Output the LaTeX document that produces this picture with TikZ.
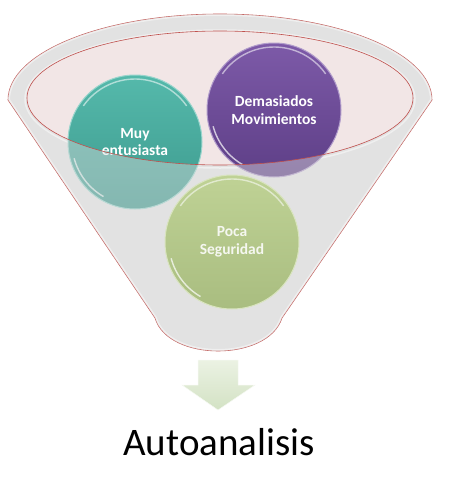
\documentclass[tikz,border=0pt]{standalone}
\usepackage{fontspec}
\setmainfont{Carlito}
\usetikzlibrary{positioning}
\definecolor{funnelred}{HTML}{C0504D}
\definecolor{funnelgray}{HTML}{E8E8E8}
\definecolor{innerpink}{HTML}{F2E6E6}
\definecolor{fadegray}{HTML}{DCDCDC}
\definecolor{tealtop}{HTML}{55B9AB}
\definecolor{tealbot}{HTML}{3D9A8E}
\definecolor{purptop}{HTML}{7D5AA8}
\definecolor{purpbot}{HTML}{5E3F87}
\definecolor{greentop}{HTML}{BFD295}
\definecolor{greenbot}{HTML}{A9BD80}
\definecolor{arrowtop}{HTML}{EBF2E3}
\definecolor{arrowbot}{HTML}{D3E2C4}
\tikzset{
  ball/.style={circle, minimum size=134pt, inner sep=0pt, align=center, text=white,
    line width=1pt, font=\bfseries\fontsize{15.5}{17.5}\selectfont,
    path picture={
      \draw[white, opacity=0.55, line width=1.4pt] (path picture bounding box.center)
        ++(145:63pt) arc[start angle=145, end angle=35, radius=63pt];
      \draw[white, opacity=0.7, line width=1.4pt] (path picture bounding box.center)
        ++(195:63pt) arc[start angle=195, end angle=240, radius=63pt];
    }},
  rimline/.style={draw=funnelred, line width=0.6pt},
  glow/.style={draw=white, line width=4pt},
}

\begin{document}
\begin{tikzpicture}[x=1pt, y=-1pt]
  \useasboundingbox (0,0) rectangle (448,485);
  \def\cone{(8,100) arc[start angle=180, end angle=360, x radius=212, y radius=86]
    -- (282,318) .. controls (268,362) and (168,362) .. (155,318) -- cycle}
  \def\mouth{(220,98) ellipse [x radius=193, y radius=67]}
  \path[fill=funnelgray, glow] \cone;
  \draw[rimline] \cone;
  \fill[innerpink] \mouth;
  \draw[white, line width=1.5pt] (220,99) ellipse [x radius=195, y radius=69];
  \node[ball, top color=tealtop, bottom color=tealbot, draw=tealtop!60!white] (entusiasta) at (135,142) {Muy\\entusiasta};
  \node[ball, top color=purptop, bottom color=purpbot, draw=purptop!60!white] (movimientos) at (274,110) {Demasiados\\Movimientos};
  \fill[fadegray, opacity=0.45, even odd rule] \cone \mouth;
  \node[ball, top color=greentop, bottom color=greenbot, draw=greentop!60!white, text=white!88!greenbot] (seguridad) at (232,242) {Poca\\Seguridad};
  \draw[rimline] \mouth;
  \path[top color=arrowtop, bottom color=arrowbot, draw=white!80!arrowbot, line width=0.5pt]
    (198,360) -- (238,360) -- (238,385) -- (255,385) -- (218,410) -- (182,385) -- (198,385) -- cycle;
  \node[anchor=base, font=\fontsize{39}{46}\selectfont] (autoanalisis) at (219,455) {Autoanalisis};
\end{tikzpicture}
\end{document}
